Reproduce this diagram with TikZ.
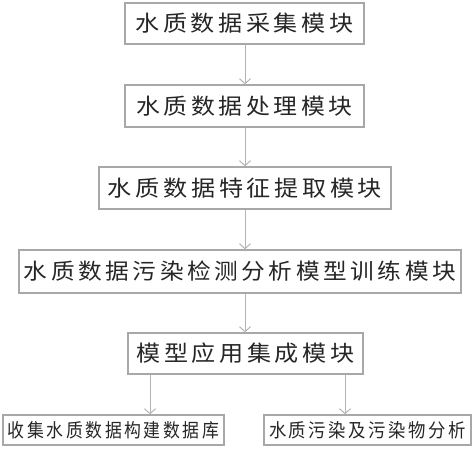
\documentclass[tikz,border=0pt]{standalone}
\usepackage{fontspec}
\newfontfamily\cjk[LetterSpace=15]{Noto Sans CJK SC}
\usetikzlibrary{arrows.meta}
\definecolor{boxline}{HTML}{A8A8A8}
\definecolor{arrline}{HTML}{B4B4B4}
\newcommand{\fitw}[2]{\resizebox{#1}{\height}{#2}}
\tikzset{
  modbox/.style={draw=boxline, line width=1.3pt, fill=white, inner sep=0pt, anchor=center,
    font=\cjk\fontsize{22}{24}\selectfont, text=black!85},
  smallbox/.style={modbox, font=\cjk\fontsize{19}{21}\selectfont},
  arr/.style={draw=arrline, line width=1pt, -{Straight Barb[length=5pt,width=11pt]}}
}
\begin{document}
\begin{tikzpicture}[x=1pt,y=-1pt]
\useasboundingbox (0,0) rectangle (474,448);
\node[modbox, minimum width=239pt, minimum height=41pt] (b1) at (244.5,23.5) {\fitw{218pt}{水质数据采集模块}};
\node[modbox, minimum width=239pt, minimum height=42pt] (b2) at (244.5,106) {\fitw{216pt}{水质数据处理模块}};
\node[modbox, minimum width=292pt, minimum height=42pt] (b3) at (245,188) {\fitw{274pt}{水质数据特征提取模块}};
\node[modbox, minimum width=442pt, minimum height=43pt] (b4) at (240,271.5) {\fitw{432pt}{水质数据污染检测分析模型训练模块}};
\node[modbox, minimum width=235pt, minimum height=41pt] (b5) at (245.5,353.5) {\fitw{218pt}{模型应用集成模块}};
\node[smallbox, minimum width=221pt, minimum height=30pt] (b6) at (113.5,430) {\fitw{211pt}{收集水质数据构建数据库}};
\node[smallbox, minimum width=207pt, minimum height=30pt] (b7) at (367.5,430) {\fitw{197pt}{水质污染及污染物分析}};
\coordinate (ax) at (245,0);
\coordinate (lx) at (150,0);
\coordinate (rx) at (345,0);
\draw[arr] (b1.south -| ax) -- (b2.north -| ax);
\draw[arr] (b2.south -| ax) -- (b3.north -| ax);
\draw[arr] (b3.south -| ax) -- (b4.north -| ax);
\draw[arr] (b4.south -| ax) -- (b5.north -| ax);
\draw[arr] (b5.south -| lx) -- (b6.north -| lx);
\draw[arr] (b5.south -| rx) -- (b7.north -| rx);
\end{tikzpicture}
\end{document}
